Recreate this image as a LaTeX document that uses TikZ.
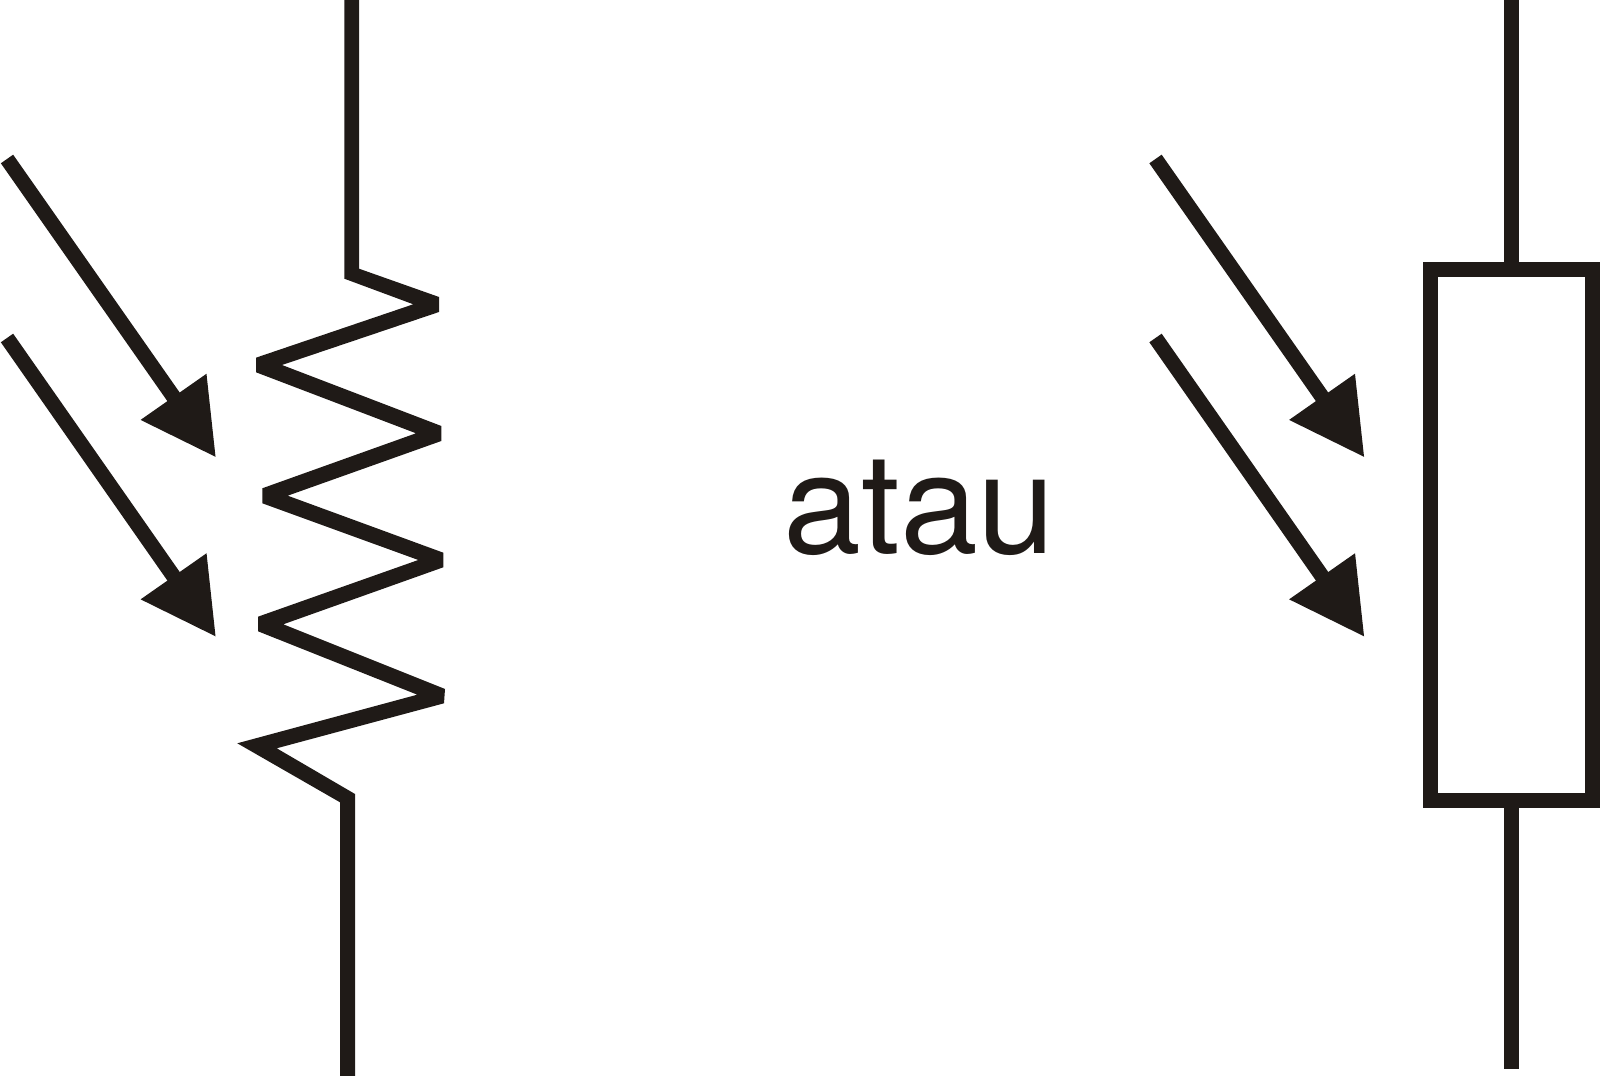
\documentclass[tikz,border=0pt]{standalone}
\usepackage{fontspec}
\setmainfont{TeX Gyre Heros}
\usetikzlibrary{arrows.meta}
\definecolor{ink}{HTML}{1F1A17}
\tikzset{
  wire/.style={draw=ink,line width=0.15cm},
  ray/.style={draw=ink,line width=0.15cm,-{Triangle[length=0.74cm,width=0.76cm,fill=ink]}}
}

\begin{document}
\begin{tikzpicture}[x=0.01cm,y=-0.01cm]
\useasboundingbox (0,0) rectangle (1600,1077);
%left symbol
\fill [ink] (344.3,0) -- (359,0) -- (359,268.7) -- (439,297) -- (439,312) -- (282,365)
  -- (441.3,426) -- (441.3,441) -- (287.7,495.7) -- (443.3,552.7) -- (443.3,567.3)
  -- (283.3,624.3) -- (445,689) -- (444,703.3) -- (276.7,748.3) -- (355,794)
  -- (355,1076) -- (340,1076) -- (340,802.3) -- (237.3,743.3) -- (417.3,694.7)
  -- (258,631.3) -- (258,616.7) -- (418.3,560) -- (262.3,503.3) -- (262.3,488.3)
  -- (416,433.3) -- (256,372.3) -- (256,357.7) -- (413.3,304.3) -- (344.3,278.7) -- cycle;
%right symbol
\node [wire,rectangle,inner sep=0,minimum width=1.625cm,minimum height=5.305cm] (ldr) at(1511.5,534.75){};
\coordinate (ldrtop) at (1511.5,0);
\coordinate (ldrbot) at (1511.5,1069);
\draw [wire] (ldrtop) -- (ldr.north);
\draw [wire] (ldr.south) -- (ldrbot);
\node [text=ink,font=\fontsize{39.8}{42}\selectfont,anchor=base,inner sep=0] (atau) at(919.5,553.5){atau};
%light rays
\coordinate (la1) at (7,159);
\coordinate (la2) at (216,457.5);
\coordinate (lb1) at (7,338);
\coordinate (lb2) at (216,637);
\coordinate (ra1) at (1155.5,159);
\coordinate (ra2) at (1364.5,457.5);
\coordinate (rb1) at (1155.5,338);
\coordinate (rb2) at (1364.5,637);
\draw [ray] (la1) -- (la2);
\draw [ray] (lb1) -- (lb2);
\draw [ray] (ra1) -- (ra2);
\draw [ray] (rb1) -- (rb2);
\end{tikzpicture}
\end{document}
